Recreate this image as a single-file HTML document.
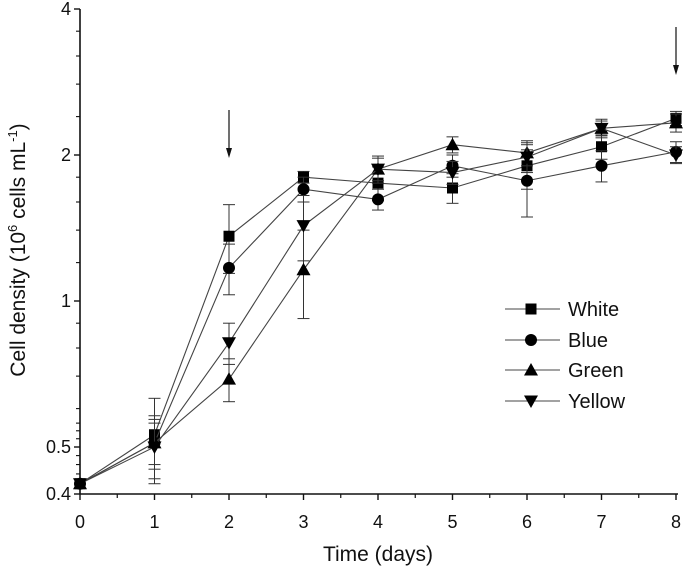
<!DOCTYPE html>
<html><head><meta charset="utf-8"><style>
html,body{margin:0;padding:0;background:#fff}
svg{display:block;font-family:"Liberation Sans",Arial,sans-serif}
</style></head><body>
<svg id="chart" width="685" height="573" viewBox="0 0 685 573">
<g id="axes"></g><g id="series"></g><g id="legend"></g>
</svg>
<script>
const days=[0,1,2,3,4,5,6,7,8];
const seriesNames=["White","Blue","Green","Yellow"];
const whiteVals=[0.42,0.53,1.36,1.80,1.75,1.71,1.90,2.08,2.38];
const blueVals=[0.42,0.51,1.17,1.70,1.62,1.90,1.77,1.90,2.03];
const greenVals=[0.42,0.51,0.69,1.16,1.87,2.10,2.02,2.27,2.33];
const yellowVals=[0.42,0.50,0.82,1.43,1.87,1.84,1.98,2.27,2.00];
const whiteErr=[0.01,0.10,0.22,0.05,0.14,0.12,0.20,0.12,0.08];
const blueErr=[0.01,0.06,0.14,0.10,0.08,0.10,0.28,0.14,0.10];
const greenErr=[0.01,0.05,0.07,0.24,0.10,0.08,0.12,0.08,0.10];
const yellowErr=[0.01,0.08,0.08,0.22,0.12,0.10,0.14,0.10,0.08];
const xTicks=[0,1,2,3,4,5,6,7,8];
const yTicks=[0.4,0.5,1,2,4];
const arrowDays=[2,8];

const NS="http://www.w3.org/2000/svg";
const X0=80,XS=74.5,Y4=9,YS=146;
const xs=d=>X0+d*XS;
const ys=v=>Y4+YS*Math.log2(4/v);
function mk(tag,attrs,parent){const e=document.createElementNS(NS,tag);for(const k in attrs)e.setAttribute(k,attrs[k]);parent.appendChild(e);return e;}
const axes=document.getElementById('axes'),sg=document.getElementById('series'),lg=document.getElementById('legend');
const stroke="#111";
let el=mk('line',{x1:X0,y1:ys(0.4),x2:678,y2:ys(0.4),stroke:stroke,'stroke-width':1.6},axes);


el=mk('line',{x1:X0,y1:ys(0.4),x2:X0,y2:ys(4),stroke:stroke,'stroke-width':1.6},axes);


xTicks.forEach(t=>{
  mk('line',{x1:xs(t),y1:ys(0.4),x2:xs(t),y2:ys(0.4)+6,stroke:stroke,'stroke-width':1.4},axes);
  if(t<8)mk('line',{x1:xs(t+0.5),y1:ys(0.4),x2:xs(t+0.5),y2:ys(0.4)+4,stroke:stroke,'stroke-width':1.2},axes);
  const tx=mk('text',{x:xs(t),y:528,'text-anchor':'middle','font-size':18,fill:'#111'},axes);tx.textContent=t;
  
  
});
yTicks.forEach(t=>{
  mk('line',{x1:X0-6,y1:ys(t),x2:X0,y2:ys(t),stroke:stroke,'stroke-width':1.4},axes);
  const tx=mk('text',{x:X0-9,y:ys(t)+6,'text-anchor':'end','font-size':18,fill:'#111'},axes);tx.textContent=t;
  
  
});
[0.6,0.7,0.8,0.9,1.2,1.4,1.6,1.8,2.4,2.8,3.2,3.6,0.42,0.44,0.46,0.48,0.52,0.54,0.56].forEach(t=>{
  mk('line',{x1:X0-4,y1:ys(t),x2:X0,y2:ys(t),stroke:stroke,'stroke-width':1.1},axes);
});
let t=mk('text',{x:378,y:561,'text-anchor':'middle','font-size':21,fill:'#111'},axes);t.textContent="Time (days)";


t=mk('text',{x:0,y:0,transform:'translate(25,250) rotate(-90)','text-anchor':'middle','font-size':21,fill:'#111'},axes);
t.innerHTML='Cell density (10<tspan dy="-8" font-size="13">6</tspan><tspan dy="8"> cells mL</tspan><tspan dy="-8" font-size="13">-1</tspan><tspan dy="8">)</tspan>';


arrowDays.forEach((d,i)=>{
  const x=xs(d),y1=i==0?110:27,y2=i==0?158:75;
  const a=mk('g',{},axes);
  
  
  mk('line',{x1:x,y1:y1,x2:x,y2:y2-8,stroke:stroke,'stroke-width':1.2},a);
  mk('path',{d:`M${x-3},${y2-10}L${x+3},${y2-10}L${x},${y2}Z`,fill:stroke},a);
});
function marker(kind,x,y,parent){
  if(kind==0)return mk('rect',{x:x-5.5,y:y-5.5,width:11,height:11,fill:'#000'},parent);
  if(kind==1)return mk('circle',{cx:x,cy:y,r:6,fill:'#000'},parent);
  if(kind==2)return mk('path',{d:`M${x},${y-7}L${x+7},${y+5.5}L${x-7},${y+5.5}Z`,fill:'#000'},parent);
  return mk('path',{d:`M${x},${y+7}L${x+7},${y-5.5}L${x-7},${y-5.5}Z`,fill:'#000'},parent);
}
const allVals=[whiteVals,blueVals,greenVals,yellowVals],allErr=[whiteErr,blueErr,greenErr,yellowErr];
allVals.forEach((vals,s)=>{
  const g=mk('g',{},sg);
  
  
  const ln=mk('polyline',{points:vals.map((v,i)=>xs(days[i])+','+ys(v)).join(' '),fill:'none',stroke:'#444','stroke-width':1.1},g);
  
  
  vals.forEach((v,i)=>{
    const e=allErr[s][i],x=xs(days[i]);
    if(e>0.02){
      const yt=ys(v+e),yb=ys(Math.max(v-e,0.3));
      mk('line',{x1:x,y1:yt,x2:x,y2:yb,stroke:'#333','stroke-width':1},g);
      mk('line',{x1:x-6,y1:yt,x2:x+6,y2:yt,stroke:'#333','stroke-width':1},g);
      mk('line',{x1:x-6,y1:yb,x2:x+6,y2:yb,stroke:'#333','stroke-width':1},g);
    }
    const m=marker(s,x,ys(v),g);
    
    
  });
});
const legY=[309,340,370,401];
seriesNames.forEach((n,s)=>{
  const g=mk('g',{},lg);
  
  
  mk('line',{x1:505,y1:legY[s],x2:560,y2:legY[s],stroke:'#444','stroke-width':1.1},g);
  marker(s,531,legY[s],g);
  const tx=mk('text',{x:568,y:legY[s]+7,'font-size':20,fill:'#111'},g);tx.textContent=n;
});
</script>
</body></html>
